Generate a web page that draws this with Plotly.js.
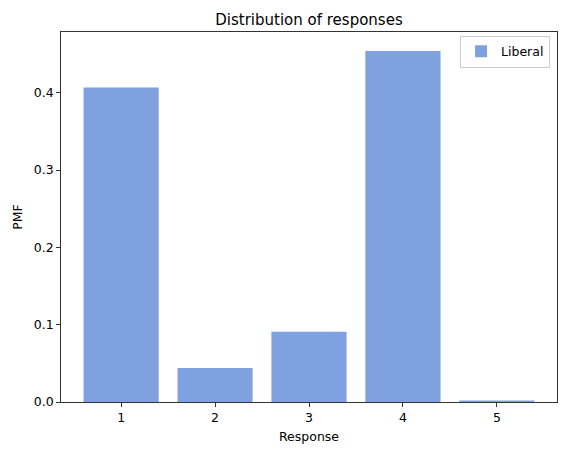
<!DOCTYPE html>
<html>
<head>
<meta charset="utf-8">
<script src="https://cdn.plot.ly/plotly-3.0.1.min.js"></script>
<style>
  html, body { margin: 0; padding: 0; background: #fff; }
  #chart { width: 567px; height: 455px; }
</style>
</head>
<body>
<div id="chart"></div>
<script>
// response categories and their pmf
const responses = [1, 2, 3, 4, 5];
const pmfLiberal = [0.407, 0.044, 0.091, 0.454, 0.002];
const tickVals = [0.0, 0.1, 0.2, 0.3, 0.4];
const tickText = ['0.0', '0.1', '0.2', '0.3', '0.4'];

const font = { family: 'DejaVu Sans', size: 12.5, color: '#000' };

const trace = {
  type: 'bar',
  x: responses,
  y: pmfLiberal,
  name: 'Liberal',
  width: 0.8,
  marker: { color: 'rgb(127,161,224)', line: { width: 0 } },
  showlegend: true
};

const layout = {
  width: 567,
  height: 455,
  margin: { l: 61, r: 10, t: 32, b: 53 },
  paper_bgcolor: '#fff',
  plot_bgcolor: '#fff',
  font: font,
  title: {
    text: 'Distribution of responses',
    font: { family: 'DejaVu Sans', size: 15, color: '#000' },
    x: 0.5, xanchor: 'center', xref: 'paper',
    y: 1, yref: 'paper', yanchor: 'bottom', pad: { b: 7 }
  },
  xaxis: {
    range: [0.36, 5.64],
    tickvals: responses,
    ticktext: responses.map(String),
    ticks: 'outside', ticklen: 4, tickwidth: 0.8, tickcolor: '#000',
    showgrid: false, zeroline: false,
    showline: true, linecolor: '#000', linewidth: 0.8, mirror: true,
    title: { text: 'Response', font: font, standoff: 8 },
    tickfont: font
  },
  yaxis: {
    range: [0, 0.4787],
    tickvals: tickVals,
    ticktext: tickText,
    ticks: 'outside', ticklen: 4, tickwidth: 0.8, tickcolor: '#000',
    showgrid: false, zeroline: false,
    showline: true, linecolor: '#000', linewidth: 0.8, mirror: true,
    title: { text: 'PMF', font: font, standoff: 8 },
    tickfont: font
  },
  legend: {
    x: 0.986, xanchor: 'right', y: 0.99, yanchor: 'top',
    bgcolor: 'rgba(255,255,255,0.8)',
    bordercolor: '#ccc', borderwidth: 1,
    font: font
  },
  bargap: 0.2
};

Plotly.newPlot('chart', [trace], layout, { displayModeBar: false, staticPlot: true });
</script>
</body>
</html>
